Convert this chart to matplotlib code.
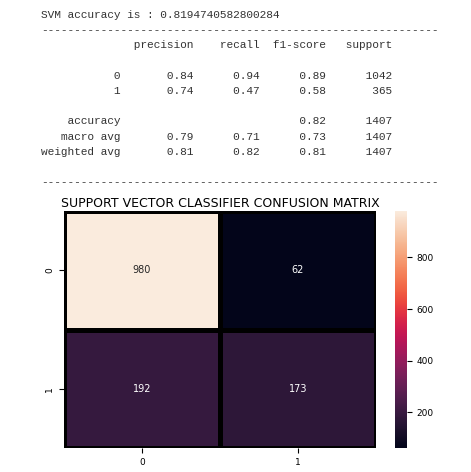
import matplotlib
matplotlib.use("Agg")
import matplotlib.pyplot as plt
import seaborn as sns
import numpy as np

# ── data ────────────────────────────────────────────────────────────────────
ACCURACY = 0.8194740582800284
CLASSES = ["0", "1"]
PRECISION = [0.84, 0.74]
RECALL = [0.94, 0.47]
F1 = [0.89, 0.58]
SUPPORT = [1042, 365]
ACC_F1 = 0.82
MACRO = [0.79, 0.71, 0.73]
WEIGHTED = [0.81, 0.82, 0.81]
TOTAL = 1407
CM = np.array([[980, 62],
               [192, 173]])

# ── text block (sklearn-style report) ───────────────────────────────────────
lines = [f"SVM accuracy is : {ACCURACY}", "-" * 60,
         f"{'':>12}  {'precision':>9} {'recall':>9} {'f1-score':>9} {'support':>9}", ""]
for c, p, r, f, s in zip(CLASSES, PRECISION, RECALL, F1, SUPPORT):
    lines.append(f"{c:>12}  {p:>9.2f} {r:>9.2f} {f:>9.2f} {s:>9}")
lines.append("")
lines.append(f"{'accuracy':>12}  {'':>9} {'':>9} {ACC_F1:>9.2f} {TOTAL:>9}")
lines.append(f"{'macro avg':>12}  {MACRO[0]:>9.2f} {MACRO[1]:>9.2f} {MACRO[2]:>9.2f} {TOTAL:>9}")
lines.append(f"{'weighted avg':>12}  {WEIGHTED[0]:>9.2f} {WEIGHTED[1]:>9.2f} {WEIGHTED[2]:>9.2f} {TOTAL:>9}")
lines.append("")
lines.append("-" * 60)

fig = plt.figure(figsize=(4.71, 4.72), dpi=100)
LINE_H = 15.2 / 472
for i, ln in enumerate(lines):
    fig.text(41 / 471, 1 - (15 + i * LINE_H * 472) / 472, ln,
             family="Liberation Mono", fontsize=8, color="#333333",
             va="center", ha="left")

# ── heatmap ─────────────────────────────────────────────────────────────────
ax = fig.add_axes([64 / 471, 1 - 448 / 472, 312 / 471, 237 / 472])
cax = fig.add_axes([395 / 471, 1 - 448 / 472, 12 / 471, 237 / 472])
sns.heatmap(CM, annot=True, fmt="d", ax=ax, cbar_ax=cax,
            linewidths=2.5, linecolor="black",
            annot_kws={"fontsize": 7})
ax.set_title("SUPPORT VECTOR CLASSIFIER CONFUSION MATRIX", fontsize=9, pad=3)
ax.set_xticklabels(CLASSES, fontsize=6.5)
ax.set_yticklabels(CLASSES, fontsize=6.5)
cax.tick_params(labelsize=6.5)
cax.set_yticks([200, 400, 600, 800])
for s in ax.spines.values():
    s.set_visible(False)

fig.savefig("out.png", dpi=100)
